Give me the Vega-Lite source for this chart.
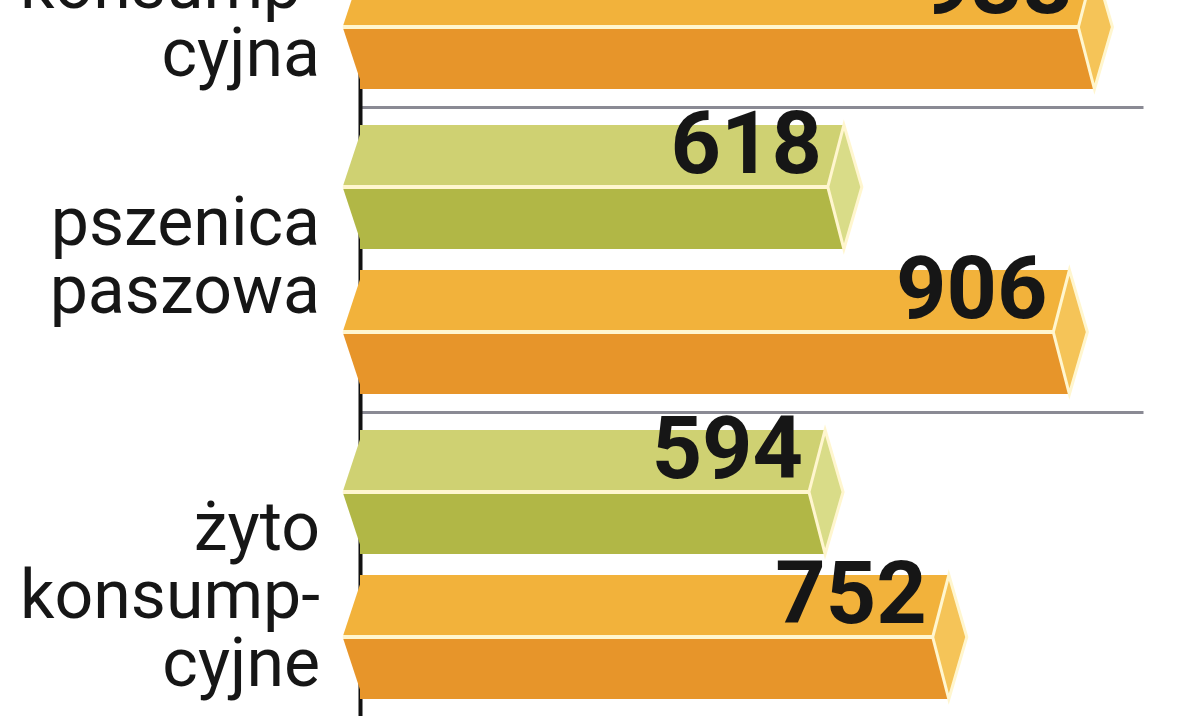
{
  "$schema": "https://vega.github.io/schema/vega-lite/v6.json",
  "width": 783,
  "height": 716,
  "autosize": "none",
  "padding": {"left": 360, "top": 0, "right": 57, "bottom": 0},
  "background": "white",
  "view": {"stroke": null},
  "config": {
    "font": "Roboto",
    "axisY": {
      "bandPosition": 0,
      "domain": true,
      "domainColor": "#111111",
      "domainWidth": 4,
      "grid": true,
      "gridColor": "#8a8a94",
      "gridWidth": 3,
      "ticks": false,
      "labels": false,
      "title": null
    }
  },
  "data": {
    "values": [
      {"uprawa": "pszenica\nkonsump-\ncyjna", "seria": "B", "cena": 938},
      {"uprawa": "pszenica\npaszowa", "seria": "A", "cena": 618},
      {"uprawa": "pszenica\npaszowa", "seria": "B", "cena": 906},
      {"uprawa": "żyto\nkonsump-\ncyjne", "seria": "A", "cena": 594},
      {"uprawa": "żyto\nkonsump-\ncyjne", "seria": "B", "cena": 752}
    ]
  },
  "encoding": {
    "y": {
      "field": "uprawa",
      "type": "nominal",
      "sort": null,
      "scale": {
        "domain": ["pszenica\nkonsump-\ncyjna", "pszenica\npaszowa", "żyto\nkonsump-\ncyjne"],
        "range": [-198, 717],
        "paddingInner": 0,
        "paddingOuter": 0
      }
    }
  },
  "layer": [
    {
      "mark": {"type": "bar", "orient": "horizontal"},
      "encoding": {
        "x": {"field": "cena", "type": "quantitative", "scale": {"domain": [0, 1000]}, "axis": null},
        "yOffset": {"field": "seria", "type": "nominal", "scale": {"domain": ["A", "B"], "paddingInner": 0.145, "paddingOuter": 0.124}},
        "fill": {
          "condition": {
            "test": "datum.seria === 'A'",
            "value": {"gradient": "linear", "x1": 0, "y1": 0, "x2": 0, "y2": 1, "stops": [
              {"offset": 0, "color": "#cfd172"}, {"offset": 0.484, "color": "#cfd172"},
              {"offset": 0.484, "color": "#fff6cf"}, {"offset": 0.516, "color": "#fff6cf"},
              {"offset": 0.516, "color": "#b1b746"}, {"offset": 1, "color": "#b1b746"}]}
          },
          "value": {"gradient": "linear", "x1": 0, "y1": 0, "x2": 0, "y2": 1, "stops": [
            {"offset": 0, "color": "#f2b23b"}, {"offset": 0.484, "color": "#f2b23b"},
            {"offset": 0.484, "color": "#fff6cf"}, {"offset": 0.516, "color": "#fff6cf"},
            {"offset": 0.516, "color": "#e7952a"}, {"offset": 1, "color": "#e7952a"}]}
        }
      }
    },
    {
      "mark": {"type": "point", "filled": true, "opacity": 1, "size": 15376, "shape": "M0.05,-1 L-0.28,0 L0.05,1 Z"},
      "encoding": {
        "x": {"datum": 0, "type": "quantitative"},
        "yOffset": {"field": "seria", "type": "nominal"},
        "fill": {
          "condition": {
            "test": "datum.seria === 'A'",
            "value": {"gradient": "linear", "x1": 0, "y1": 0, "x2": 0, "y2": 1, "stops": [
              {"offset": 0, "color": "#cfd172"}, {"offset": 0.484, "color": "#cfd172"},
              {"offset": 0.484, "color": "#fff6cf"}, {"offset": 0.516, "color": "#fff6cf"},
              {"offset": 0.516, "color": "#b1b746"}, {"offset": 1, "color": "#b1b746"}]}
          },
          "value": {"gradient": "linear", "x1": 0, "y1": 0, "x2": 0, "y2": 1, "stops": [
            {"offset": 0, "color": "#f2b23b"}, {"offset": 0.484, "color": "#f2b23b"},
            {"offset": 0.484, "color": "#fff6cf"}, {"offset": 0.516, "color": "#fff6cf"},
            {"offset": 0.516, "color": "#e7952a"}, {"offset": 1, "color": "#e7952a"}]}
        }
      }
    },
    {
      "mark": {"type": "point", "filled": true, "opacity": 1, "size": 15376, "shape": "M0,-1 L0.29,0 L0,1 L-0.26,0 Z", "stroke": "#fff6cf", "strokeWidth": 3},
      "encoding": {
        "x": {"field": "cena", "type": "quantitative"},
        "yOffset": {"field": "seria", "type": "nominal"},
        "fill": {"condition": {"test": "datum.seria === 'A'", "value": "#d9dc88"}, "value": "#f5c458"}
      }
    },
    {
      "mark": {"type": "text", "align": "right", "baseline": "middle", "dx": -22, "dy": -40, "fontSize": 88, "fontWeight": "bold", "font": "Roboto", "color": "#161616"},
      "encoding": {
        "x": {"field": "cena", "type": "quantitative"},
        "yOffset": {"field": "seria", "type": "nominal"},
        "text": {"field": "cena", "type": "quantitative", "format": "d"}
      }
    },
    {
      "transform": [{"filter": "datum.seria === 'B'"}],
      "mark": {"type": "text", "align": "right", "baseline": "alphabetic", "dx": -40, "dy": 138, "fontSize": 68, "lineHeight": 68, "lineBreak": "\n", "font": "Roboto", "color": "#161616"},
      "encoding": {
        "x": {"datum": 0, "type": "quantitative"},
        "y": {"field": "uprawa", "type": "nominal", "sort": null, "bandPosition": 0},
        "text": {"field": "uprawa", "type": "nominal"}
      }
    }
  ]
}
